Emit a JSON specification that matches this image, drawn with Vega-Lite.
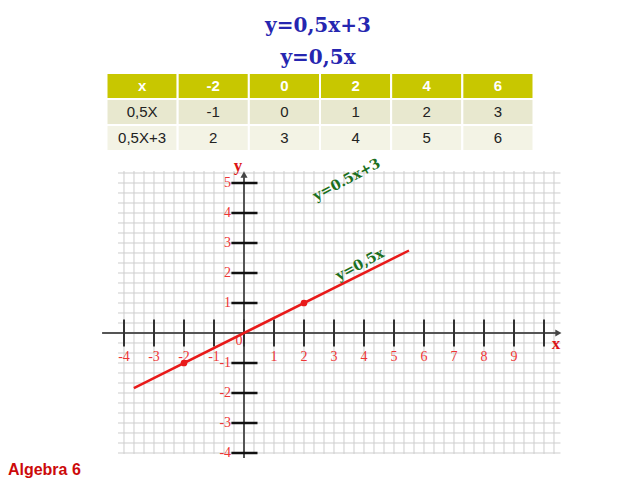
{
  "$schema": "https://vega.github.io/schema/vega-lite/v6.json",
  "autosize": {"type": "pad"},
  "padding": {"left": 0, "right": 0, "top": 16, "bottom": 0},
  "background": "white",
  "title": {
    "text": ["y=0,5x+3", "y=0,5x"],
    "anchor": "middle",
    "frame": "group",
    "dx": 318,
    "font": "DejaVu Serif",
    "fontSize": 20,
    "fontWeight": "bold",
    "color": "#2626b0",
    "lineHeight": 32,
    "offset": 4
  },
  "config": {
    "view": {"stroke": null, "fill": "white"},
    "concat": {"spacing": 0}
  },
  "bounds": "flush",
  "center": true,
  "spacing": 0,
  "vconcat": [
    {
      "width": 427,
      "height": 78,
      "data": {
        "values": [
          {"row": "r0", "col": "c0", "t": "x"},
          {"row": "r0", "col": "c1", "t": "-2"},
          {"row": "r0", "col": "c2", "t": "0"},
          {"row": "r0", "col": "c3", "t": "2"},
          {"row": "r0", "col": "c4", "t": "4"},
          {"row": "r0", "col": "c5", "t": "6"},
          {"row": "r1", "col": "c0", "t": "0,5X"},
          {"row": "r1", "col": "c1", "t": "-1"},
          {"row": "r1", "col": "c2", "t": "0"},
          {"row": "r1", "col": "c3", "t": "1"},
          {"row": "r1", "col": "c4", "t": "2"},
          {"row": "r1", "col": "c5", "t": "3"},
          {"row": "r2", "col": "c0", "t": "0,5X+3"},
          {"row": "r2", "col": "c1", "t": "2"},
          {"row": "r2", "col": "c2", "t": "3"},
          {"row": "r2", "col": "c3", "t": "4"},
          {"row": "r2", "col": "c4", "t": "5"},
          {"row": "r2", "col": "c5", "t": "6"}
        ]
      },
      "encoding": {
        "x": {"field": "col", "type": "ordinal", "axis": null, "scale": {"paddingInner": 0, "paddingOuter": 0}},
        "y": {"field": "row", "type": "ordinal", "axis": null, "scale": {"paddingInner": 0, "paddingOuter": 0}}
      },
      "layer": [
        {
          "mark": {"type": "rect", "stroke": "white", "strokeWidth": 2},
          "encoding": {
            "fill": {"field": "row", "type": "nominal", "legend": null,
              "scale": {"domain": ["r0", "r1", "r2"], "range": ["#c8c700", "#e8e8cf", "#f3f3e5"]}}
          }
        },
        {
          "transform": [{"filter": "datum.row === 'r0'"}],
          "mark": {"type": "text", "font": "Liberation Sans", "fontSize": 15, "fontWeight": "bold", "color": "white", "baseline": "middle"},
          "encoding": {"text": {"field": "t"}}
        },
        {
          "transform": [{"filter": "datum.row !== 'r0'"}],
          "mark": {"type": "text", "font": "Liberation Sans", "fontSize": 15, "color": "#222222", "baseline": "middle"},
          "encoding": {"text": {"field": "t"}}
        }
      ]
    },
    {
      "width": 640,
      "height": 330,
      "layer": [
        {
          "data": {"values": [
            {"gx": -4}, {"gx": -3.667}, {"gx": -3.333}, {"gx": -3}, {"gx": -2.667}, {"gx": -2.333}, {"gx": -2}, {"gx": -1.667}, {"gx": -1.333}, {"gx": -1}, {"gx": -0.667}, {"gx": -0.333}, {"gx": 0}, {"gx": 0.333}, {"gx": 0.667}, {"gx": 1}, {"gx": 1.333}, {"gx": 1.667}, {"gx": 2}, {"gx": 2.333}, {"gx": 2.667}, {"gx": 3}, {"gx": 3.333}, {"gx": 3.667}, {"gx": 4}, {"gx": 4.333}, {"gx": 4.667}, {"gx": 5}, {"gx": 5.333}, {"gx": 5.667}, {"gx": 6}, {"gx": 6.333}, {"gx": 6.667}, {"gx": 7}, {"gx": 7.333}, {"gx": 7.667}, {"gx": 8}, {"gx": 8.333}, {"gx": 8.667}, {"gx": 9}, {"gx": 9.333}, {"gx": 9.667}, {"gx": 10}, {"gx": 10.333}
          ]},
          "mark": {"type": "rule", "color": "#cdcdcd", "strokeWidth": 1},
          "encoding": {
            "x": {"field": "gx", "type": "quantitative", "axis": null, "scale": {"domain": [-8.1333, 13.2], "nice": false, "zero": false}},
            "y": {"datum": -4.03, "type": "quantitative", "axis": null, "scale": {"domain": [-4.9333, 6.0667], "nice": false, "zero": false}},
            "y2": {"datum": 5.4}
          }
        },
        {
          "data": {"values": [
            {"gy": -4}, {"gy": -3.667}, {"gy": -3.333}, {"gy": -3}, {"gy": -2.667}, {"gy": -2.333}, {"gy": -2}, {"gy": -1.667}, {"gy": -1.333}, {"gy": -1}, {"gy": -0.667}, {"gy": -0.333}, {"gy": 0}, {"gy": 0.333}, {"gy": 0.667}, {"gy": 1}, {"gy": 1.333}, {"gy": 1.667}, {"gy": 2}, {"gy": 2.333}, {"gy": 2.667}, {"gy": 3}, {"gy": 3.333}, {"gy": 3.667}, {"gy": 4}, {"gy": 4.333}, {"gy": 4.667}, {"gy": 5}, {"gy": 5.333}
          ]},
          "mark": {"type": "rule", "color": "#cdcdcd", "strokeWidth": 1},
          "encoding": {
            "y": {"field": "gy", "type": "quantitative", "axis": null, "scale": {"domain": [-4.9333, 6.0667], "nice": false, "zero": false}},
            "x": {"datum": -4.2, "type": "quantitative", "axis": null, "scale": {"domain": [-8.1333, 13.2], "nice": false, "zero": false}},
            "x2": {"datum": 10.55}
          }
        },
        {
          "data": {"values": [
            {"xa": -4.73, "xb": 10.45, "ya": 0, "yb": 0},
            {"xa": 0, "xb": 0, "ya": -4.17, "yb": 5.25}
          ]},
          "mark": {"type": "rule", "color": "#555555", "strokeWidth": 2},
          "encoding": {
            "x": {"field": "xa", "type": "quantitative", "axis": null, "scale": {"domain": [-8.1333, 13.2], "nice": false, "zero": false}},
            "x2": {"field": "xb"},
            "y": {"field": "ya", "type": "quantitative", "axis": null, "scale": {"domain": [-4.9333, 6.0667], "nice": false, "zero": false}},
            "y2": {"field": "yb"}
          }
        },
        {
          "data": {"values": [{"x": 10.48, "y": 0}]},
          "mark": {"type": "point", "shape": "triangle-right", "filled": true, "color": "#444444", "size": 50, "opacity": 1},
          "encoding": {
            "x": {"field": "x", "type": "quantitative", "axis": null, "scale": {"domain": [-8.1333, 13.2], "nice": false, "zero": false}},
            "y": {"field": "y", "type": "quantitative", "axis": null, "scale": {"domain": [-4.9333, 6.0667], "nice": false, "zero": false}}
          }
        },
        {
          "data": {"values": [{"x": 0, "y": 5.28}]},
          "mark": {"type": "point", "shape": "triangle-up", "filled": true, "color": "#444444", "size": 50, "opacity": 1},
          "encoding": {
            "x": {"field": "x", "type": "quantitative", "axis": null, "scale": {"domain": [-8.1333, 13.2], "nice": false, "zero": false}},
            "y": {"field": "y", "type": "quantitative", "axis": null, "scale": {"domain": [-4.9333, 6.0667], "nice": false, "zero": false}}
          }
        },
        {
          "data": {"values": [
            {"v": -4}, {"v": -3}, {"v": -2}, {"v": -1}, {"v": 0}, {"v": 1}, {"v": 2}, {"v": 3}, {"v": 4}, {"v": 5}, {"v": 6}, {"v": 7}, {"v": 8}, {"v": 9}, {"v": 10}
          ]},
          "mark": {"type": "rule", "color": "#333333", "strokeWidth": 2},
          "encoding": {
            "x": {"field": "v", "type": "quantitative", "axis": null, "scale": {"domain": [-8.1333, 13.2], "nice": false, "zero": false}},
            "y": {"datum": -0.45, "type": "quantitative", "axis": null, "scale": {"domain": [-4.9333, 6.0667], "nice": false, "zero": false}},
            "y2": {"datum": 0.45}
          }
        },
        {
          "data": {"values": [
            {"v": -4}, {"v": -3}, {"v": -2}, {"v": -1}, {"v": 1}, {"v": 2}, {"v": 3}, {"v": 4}, {"v": 5}
          ]},
          "mark": {"type": "rule", "color": "#111111", "strokeWidth": 2.5},
          "encoding": {
            "y": {"field": "v", "type": "quantitative", "axis": null, "scale": {"domain": [-4.9333, 6.0667], "nice": false, "zero": false}},
            "x": {"datum": -0.42, "type": "quantitative", "axis": null, "scale": {"domain": [-8.1333, 13.2], "nice": false, "zero": false}},
            "x2": {"datum": 0.45}
          }
        },
        {
          "data": {"values": [
            {"v": -4, "t": "-4"}, {"v": -3, "t": "-3"}, {"v": -2, "t": "-2"}, {"v": -1, "t": "-1"}, {"v": 1, "t": "1"}, {"v": 2, "t": "2"}, {"v": 3, "t": "3"}, {"v": 4, "t": "4"}, {"v": 5, "t": "5"}, {"v": 6, "t": "6"}, {"v": 7, "t": "7"}, {"v": 8, "t": "8"}, {"v": 9, "t": "9"}
          ]},
          "mark": {"type": "text", "font": "Liberation Serif", "fontSize": 14, "color": "#ee3535", "baseline": "middle", "align": "center"},
          "encoding": {
            "x": {"field": "v", "type": "quantitative", "axis": null, "scale": {"domain": [-8.1333, 13.2], "nice": false, "zero": false}},
            "y": {"datum": -0.8, "type": "quantitative", "axis": null, "scale": {"domain": [-4.9333, 6.0667], "nice": false, "zero": false}},
            "text": {"field": "t"}
          }
        },
        {
          "data": {"values": [
            {"v": -4, "t": "-4"}, {"v": -3, "t": "-3"}, {"v": -2, "t": "-2"}, {"v": -1, "t": "-1"}, {"v": 1, "t": "1"}, {"v": 2, "t": "2"}, {"v": 3, "t": "3"}, {"v": 4, "t": "4"}, {"v": 5, "t": "5"}
          ]},
          "mark": {"type": "text", "font": "Liberation Serif", "fontSize": 14, "color": "#ee3535", "baseline": "middle", "align": "right"},
          "encoding": {
            "y": {"field": "v", "type": "quantitative", "axis": null, "scale": {"domain": [-4.9333, 6.0667], "nice": false, "zero": false}},
            "x": {"datum": -0.43, "type": "quantitative", "axis": null, "scale": {"domain": [-8.1333, 13.2], "nice": false, "zero": false}},
            "text": {"field": "t"}
          }
        },
        {
          "data": {"values": [{"x": -0.17, "y": -0.25, "t": "0"}]},
          "mark": {"type": "text", "font": "Liberation Serif", "fontSize": 14, "color": "#ee3535", "baseline": "middle", "align": "center"},
          "encoding": {
            "x": {"field": "x", "type": "quantitative", "axis": null, "scale": {"domain": [-8.1333, 13.2], "nice": false, "zero": false}},
            "y": {"field": "y", "type": "quantitative", "axis": null, "scale": {"domain": [-4.9333, 6.0667], "nice": false, "zero": false}},
            "text": {"field": "t"}
          }
        },
        {
          "data": {"values": [{"x": 10.4, "y": -0.38, "t": "x"}, {"x": -0.2, "y": 5.57, "t": "y"}]},
          "mark": {"type": "text", "font": "Liberation Serif", "fontSize": 17, "fontWeight": "bold", "color": "#dd1515", "baseline": "middle", "align": "center"},
          "encoding": {
            "x": {"field": "x", "type": "quantitative", "axis": null, "scale": {"domain": [-8.1333, 13.2], "nice": false, "zero": false}},
            "y": {"field": "y", "type": "quantitative", "axis": null, "scale": {"domain": [-4.9333, 6.0667], "nice": false, "zero": false}},
            "text": {"field": "t"}
          }
        },
        {
          "data": {"values": [{"x": -3.67, "y": -1.835}, {"x": 5.5, "y": 2.75}]},
          "mark": {"type": "line", "color": "#e81a1a", "strokeWidth": 2.5},
          "encoding": {
            "x": {"field": "x", "type": "quantitative", "axis": null, "scale": {"domain": [-8.1333, 13.2], "nice": false, "zero": false}},
            "y": {"field": "y", "type": "quantitative", "axis": null, "scale": {"domain": [-4.9333, 6.0667], "nice": false, "zero": false}}
          }
        },
        {
          "data": {"values": [{"x": -2, "y": -1}, {"x": 2, "y": 1}]},
          "mark": {"type": "point", "filled": true, "color": "#e81a1a", "size": 45, "opacity": 1},
          "encoding": {
            "x": {"field": "x", "type": "quantitative", "axis": null, "scale": {"domain": [-8.1333, 13.2], "nice": false, "zero": false}},
            "y": {"field": "y", "type": "quantitative", "axis": null, "scale": {"domain": [-4.9333, 6.0667], "nice": false, "zero": false}}
          }
        },
        {
          "data": {"values": [{"x": 3.43, "y": 5.1, "t": "y=0.5x+3"}, {"x": 3.87, "y": 2.27, "t": "y=0,5x"}]},
          "mark": {"type": "text", "font": "DejaVu Serif", "fontSize": 14, "fontWeight": "bold", "color": "#1b6f20", "baseline": "middle", "align": "center", "angle": 332},
          "encoding": {
            "x": {"field": "x", "type": "quantitative", "axis": null, "scale": {"domain": [-8.1333, 13.2], "nice": false, "zero": false}},
            "y": {"field": "y", "type": "quantitative", "axis": null, "scale": {"domain": [-4.9333, 6.0667], "nice": false, "zero": false}},
            "text": {"field": "t"}
          }
        },
        {
          "data": {"values": [{"x": -7.87, "y": -4.57, "t": "Algebra 6"}]},
          "mark": {"type": "text", "font": "Liberation Sans", "fontSize": 16, "fontWeight": "bold", "color": "#cc0a0a", "baseline": "middle", "align": "left"},
          "encoding": {
            "x": {"field": "x", "type": "quantitative", "axis": null, "scale": {"domain": [-8.1333, 13.2], "nice": false, "zero": false}},
            "y": {"field": "y", "type": "quantitative", "axis": null, "scale": {"domain": [-4.9333, 6.0667], "nice": false, "zero": false}},
            "text": {"field": "t"}
          }
        }
      ]
    }
  ]
}
